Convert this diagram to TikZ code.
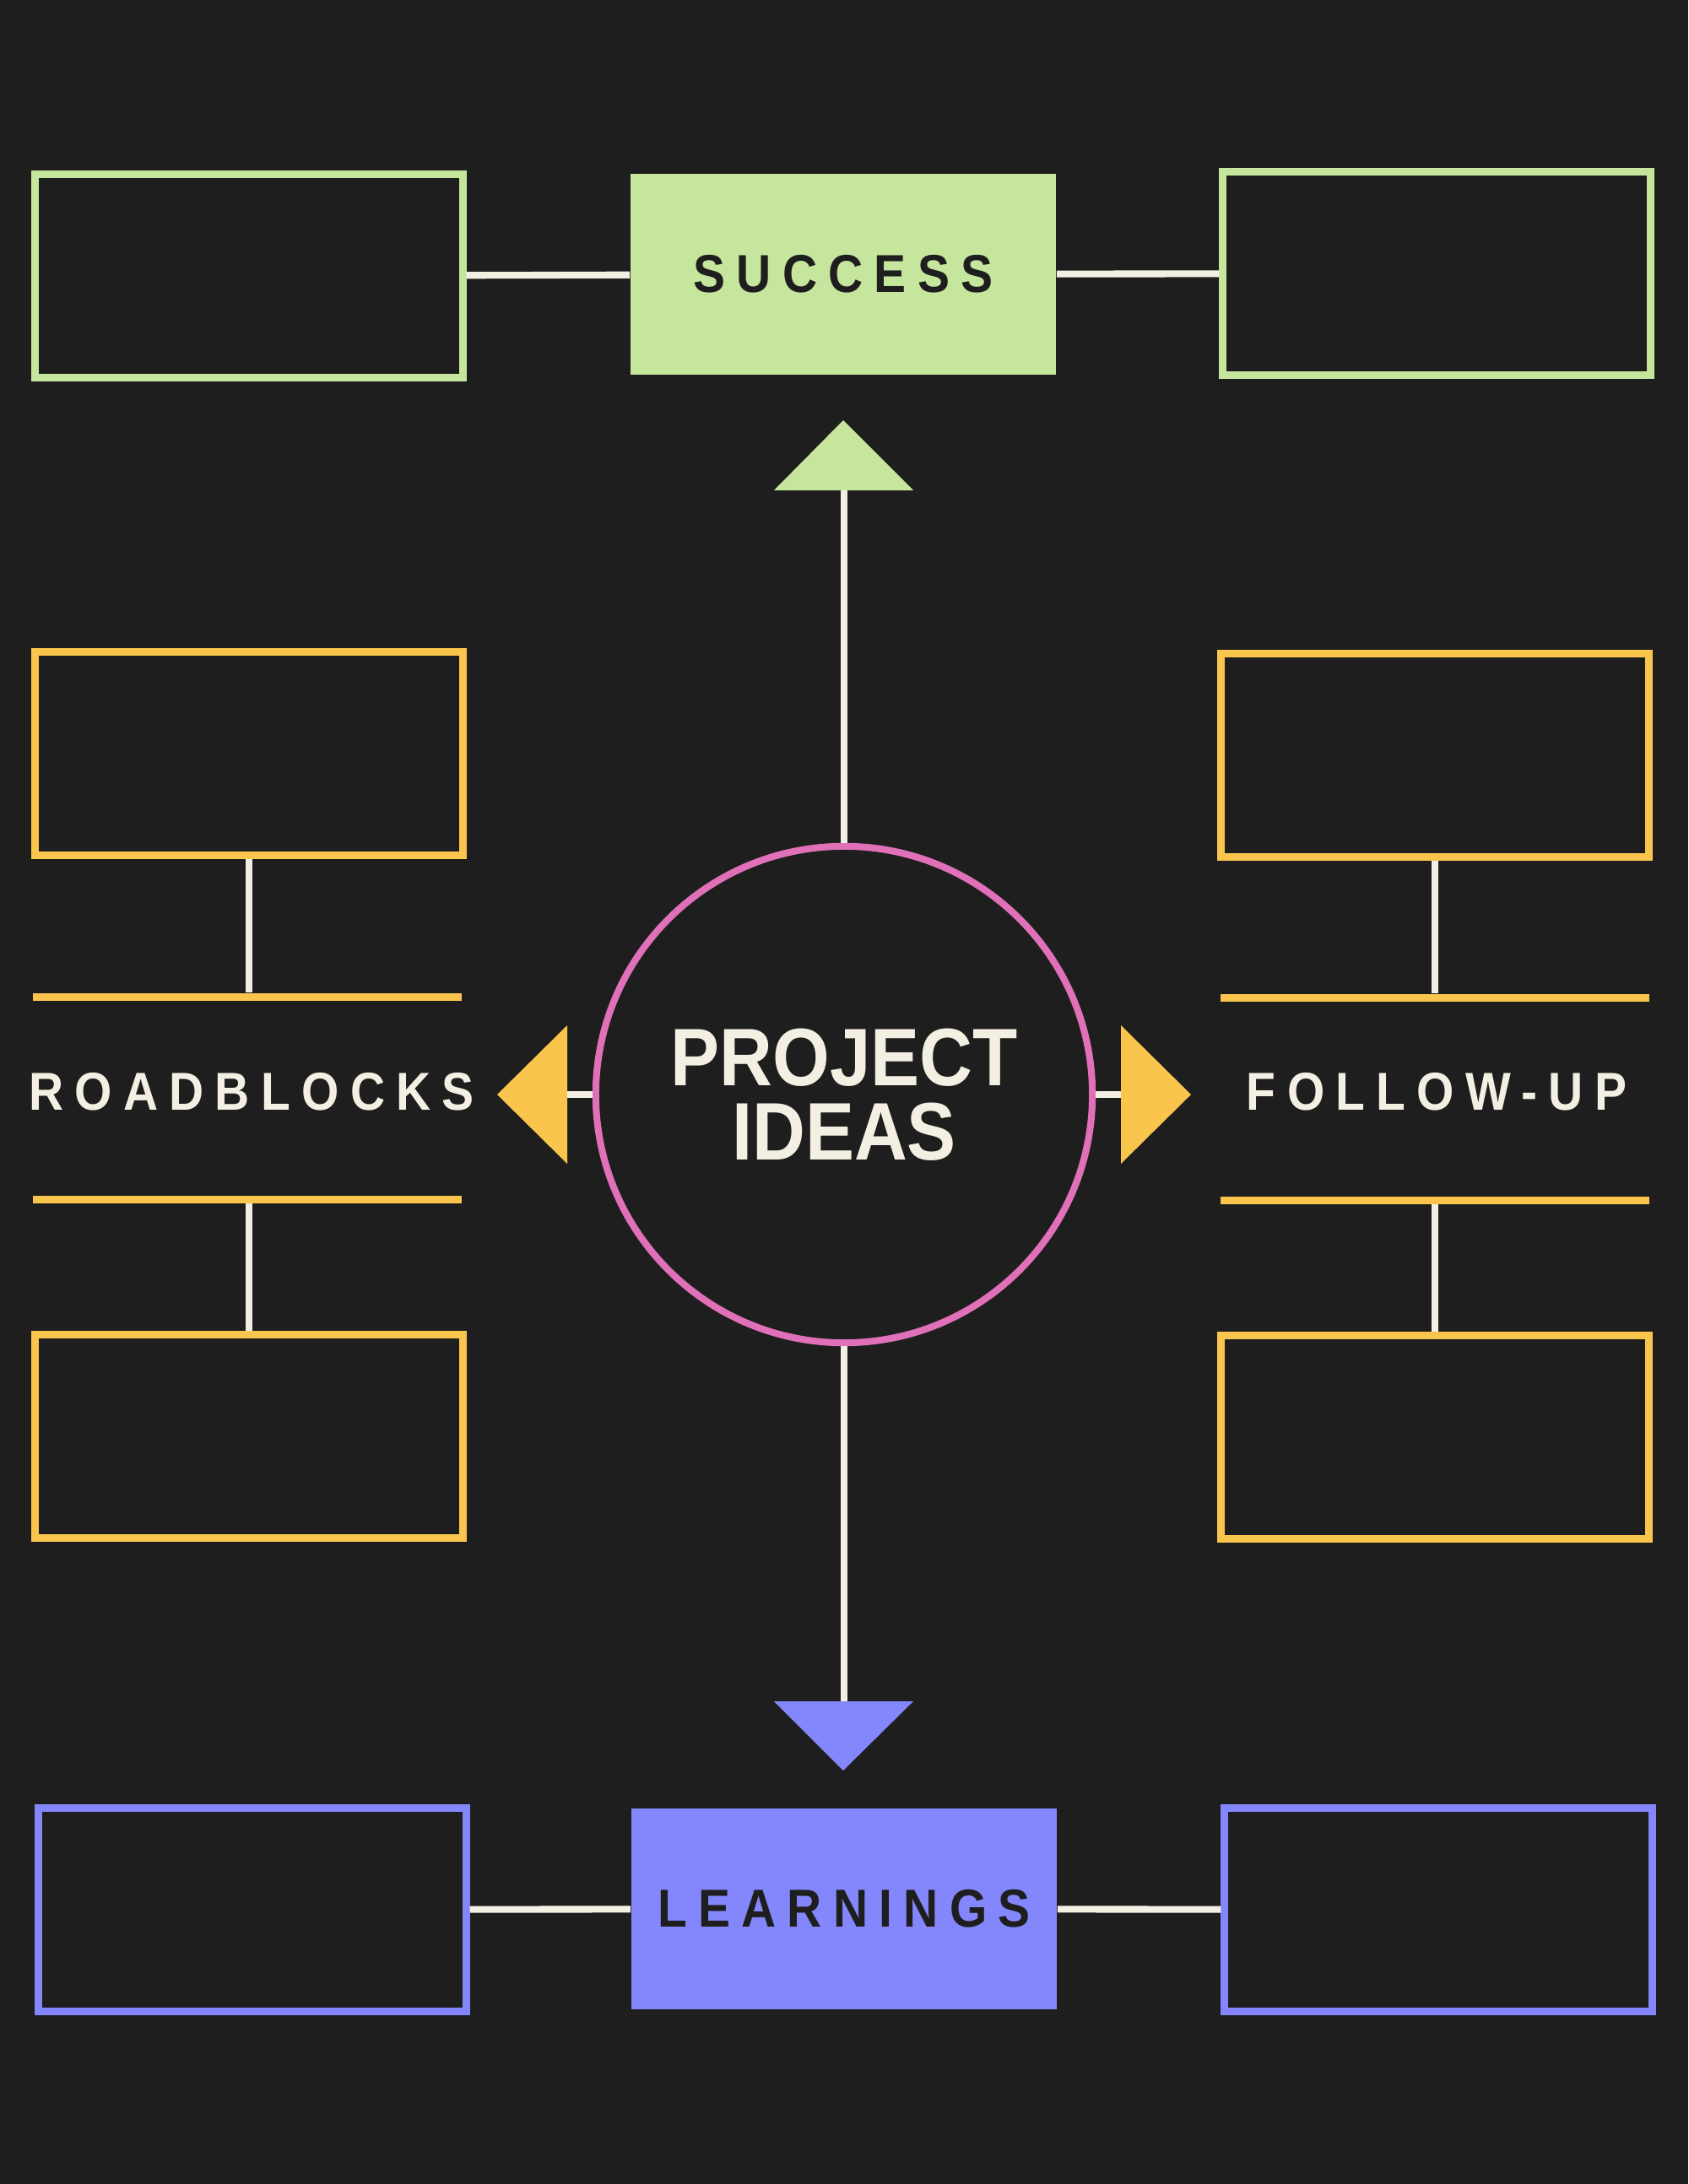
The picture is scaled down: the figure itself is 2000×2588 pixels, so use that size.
\documentclass[tikz,border=0pt]{standalone}
\usepackage{fontspec}
\setmainfont{Liberation Sans}
\newfontfamily\hubfont[FakeStretch=0.9]{Liberation Sans}
\newfontfamily\tagfont[FakeStretch=0.9,LetterSpace=21]{Liberation Sans}
\usepackage{tikz}
\usetikzlibrary{positioning}
\definecolor{bg}{HTML}{1E1E1E}
\definecolor{cream}{HTML}{F3EFE2}
\definecolor{leaf}{HTML}{C5E69C}
\definecolor{gold}{HTML}{F9C54D}
\definecolor{iris}{HTML}{8387FB}
\definecolor{rose}{HTML}{E070B8}
\tikzstyle{box} = [draw, line width=2.6pt, minimum width=5.06cm, minimum height=2.41cm, inner sep=0pt]
\tikzstyle{tag} = [minimum width=5.04cm, minimum height=2.38cm, inner sep=0pt, text=bg, font=\tagfont\bfseries\fontsize{18pt}{20pt}\selectfont]
\tikzstyle{label} = [inner sep=0pt, text=cream, font=\tagfont\bfseries\fontsize{18pt}{20pt}\selectfont]
\tikzstyle{bar} = [fill=gold, minimum width=5.08cm, minimum height=0.09cm, inner sep=0pt]
\tikzstyle{link} = [draw=cream, line width=2.3pt]

\begin{document}
\begin{tikzpicture}[x=0.01cm, y=-0.01cm]
    \fill[bg] (0,0) rectangle (2000,2588);
    \useasboundingbox (0,0) rectangle (2000,2588);

      % Nodes
      \node[tag, fill=leaf] (success) at (999,325) {SUCCESS};
      \node[box, draw=leaf] (boxTL) at (295,327) {};
      \node[box, draw=leaf] (boxTR) at (1702,324) {};

      \node[circle, draw=rose, line width=2.3pt, minimum size=5.88cm, inner sep=0pt, text=cream, align=center,
            font=\hubfont\bfseries\fontsize{27.5pt}{25pt}\selectfont] (hub) at (1000,1297) {PROJECT\\IDEAS};

      \node[box, draw=gold] (boxLU) at (295,893) {};
      \node[bar] (barLU) at (293,1181) {};
      \node[label] (roadblocks) at (298,1294) {ROADBLOCKS};
      \node[bar] (barLD) at (293,1421) {};
      \node[box, draw=gold] (boxLD) at (295,1702) {};

      \node[box, draw=gold] (boxRU) at (1700,895) {};
      \node[bar] (barRU) at (1700,1182) {};
      \node[label] (followup) at (1702,1294) {FOLLOW-UP};
      \node[bar] (barRD) at (1700,1422) {};
      \node[box, draw=gold] (boxRD) at (1700,1703) {};

      \node[tag, fill=iris] (learnings) at (1000,2262) {LEARNINGS};
      \node[box, draw=iris] (boxBL) at (299,2263) {};
      \node[box, draw=iris] (boxBR) at (1704,2263) {};

      % Pointers
      \coordinate (upBase) at (1000,581);
      \coordinate (leftBase) at (672,1297);
      \coordinate (rightBase) at (1328,1297);
      \coordinate (downBase) at (1000,2016);
      \fill[leaf] (917,581) -- (999,498) -- (1082,581) -- cycle;
      \fill[gold] (672,1215) -- (589,1297) -- (672,1379) -- cycle;
      \fill[gold] (1328,1215) -- (1411,1297) -- (1328,1379) -- cycle;
      \fill[iris] (917,2016) -- (999,2098) -- (1082,2016) -- cycle;

      %Edges
      \draw[link] (boxTL) -- (success);
      \draw[link] (success) -- (boxTR);
      \draw[link] (hub) -- (upBase);
      \draw[link] (hub) -- (leftBase);
      \draw[link] (hub) -- (rightBase);
      \draw[link] (hub) -- (downBase);
      \draw[link] (boxLU) -- (boxLU |- barLU.north);
      \draw[link] (boxLD |- barLD.south) -- (boxLD);
      \draw[link] (boxRU) -- (boxRU |- barRU.north);
      \draw[link] (boxRD |- barRD.south) -- (boxRD);
      \draw[link] (boxBL) -- (learnings);
      \draw[link] (learnings) -- (boxBR);

  \end{tikzpicture}
\end{document}
